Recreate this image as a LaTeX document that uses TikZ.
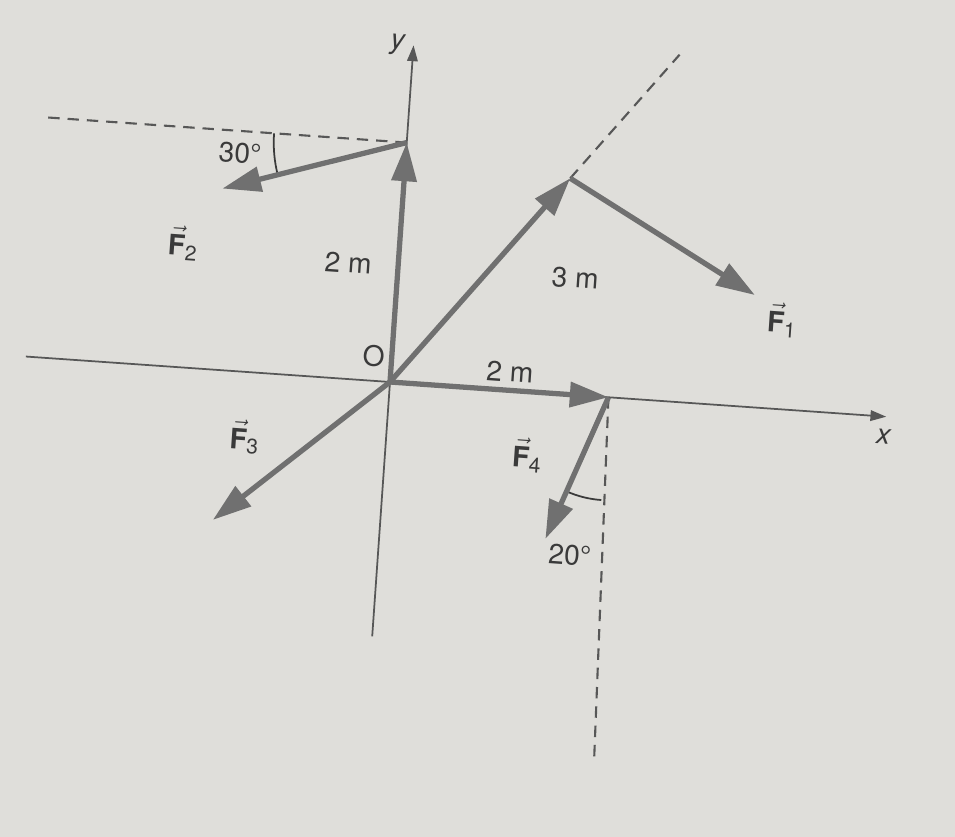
\documentclass[tikz,border=0pt]{standalone}
\usepackage{fontspec}
\setmainfont{TeX Gyre Heros}
\usetikzlibrary{arrows.meta}
\definecolor{paper}{HTML}{DFDEDA}
\definecolor{ink}{HTML}{3A3A3A}
\definecolor{vecgray}{HTML}{707070}
\newcommand{\forcelbl}[1]{$\vec{\mbox{\bfseries F}}_{\mbox{\fontsize{12}{12}\selectfont #1}}$}
\begin{document}
\begin{tikzpicture}[
    force/.style={line width=3pt, vecgray, -{Triangle[length=22pt,width=14pt]}},
    axisline/.style={line width=1pt, ink!85, -{Triangle[length=9pt,width=6pt]}},
    guide/.style={line width=1.2pt, ink!85, dash pattern=on 6.5pt off 4.5pt},
    angarc/.style={line width=1pt, ink},
    lbl/.style={ink, font=\fontsize{16}{19}\selectfont, transform shape}
  ]
  \fill[paper] (-7.8, -9.1) rectangle (11.3, 7.64) ;
  \begin{scope}[rotate=-4]
    % points of the figure
    \coordinate (O) at (0, 0) ;
    \coordinate (A) at (0, 4.8) ;
    \coordinate (B) at (52.5:5.44) ;
    \coordinate (C) at (4.38, 0) ;
    \coordinate (xl) at (-7.3, 0) ;
    \coordinate (xr) at (9.95, 0) ;
    \coordinate (yb) at (0, -5.1) ;
    \coordinate (yt) at (0, 6.75) ;
    \coordinate (d2) at (-7.2, 4.8) ;
    \coordinate (d1) at (52.5:8.74) ;
    \coordinate (d4) at (4.6, -7.26) ;
    \path (A) ++ (198:3.8) coordinate (f2) ;
    \path (B) ++ (-28.3:4.37) coordinate (f1) ;
    \path (C) ++ (250:3.1) coordinate (f4) ;
    \path (O) ++ (221.9:4.49) coordinate (f3) ;
    % axes and guides
    \draw[axisline] (xl) -- (xr) ;
    \draw[axisline] (yb) -- (yt) ;
    \draw[guide] (A) -- (d2) ;
    \draw[guide] (B) -- (d1) ;
    \draw[guide] (C) -- (d4) ;
    % angles
    \draw[angarc] (A) ++ (180:2.66) arc[start angle=180, end angle=198, radius=2.66] ;
    \draw[angarc] (C) ++ (250:2.06) arc[start angle=250, end angle=270, radius=2.06] ;
    % position and force vectors
    \draw[force] (O) -- (A) ;
    \draw[force] (O) -- (B) ;
    \draw[force] (O) -- (C) ;
    \draw[force] (A) -- (f2) ;
    \draw[force] (B) -- (f1) ;
    \draw[force] (C) -- (f4) ;
    \draw[force] (O) -- (f3) ;
    % labels
    \node[lbl] (lblx) at (9.93, -0.41) {\textit{x}} ;
    \node[lbl] (lbly) at (-0.31, 6.73) {\textit{y}} ;
    \node[lbl] (lblO) at (-0.36, 0.5) {O} ;
    \node[lbl] (lbl2my) at (-1.0, 2.32) {2 m} ;
    \node[lbl] (lbl2mx) at (2.38, 0.37) {2 m} ;
    \node[lbl] (lbl3m) at (3.55, 2.33) {3 m} ;
    \node[lbl] (lbl30) at (-3.31, 4.36) {30°} ;
    \node[lbl] (lbl20) at (3.83, -3.2) {20°} ;
    \node[lbl] (lblF1) at (7.74, 1.78) {\forcelbl{1}} ;
    \node[lbl] (lblF2) at (-4.32, 2.48) {\forcelbl{2}} ;
    \node[lbl] (lblF3) at (-2.82, -1.3) {\forcelbl{3}} ;
    \node[lbl] (lblF4) at (2.84, -1.27) {\forcelbl{4}} ;
  \end{scope}
\end{tikzpicture}
\end{document}
